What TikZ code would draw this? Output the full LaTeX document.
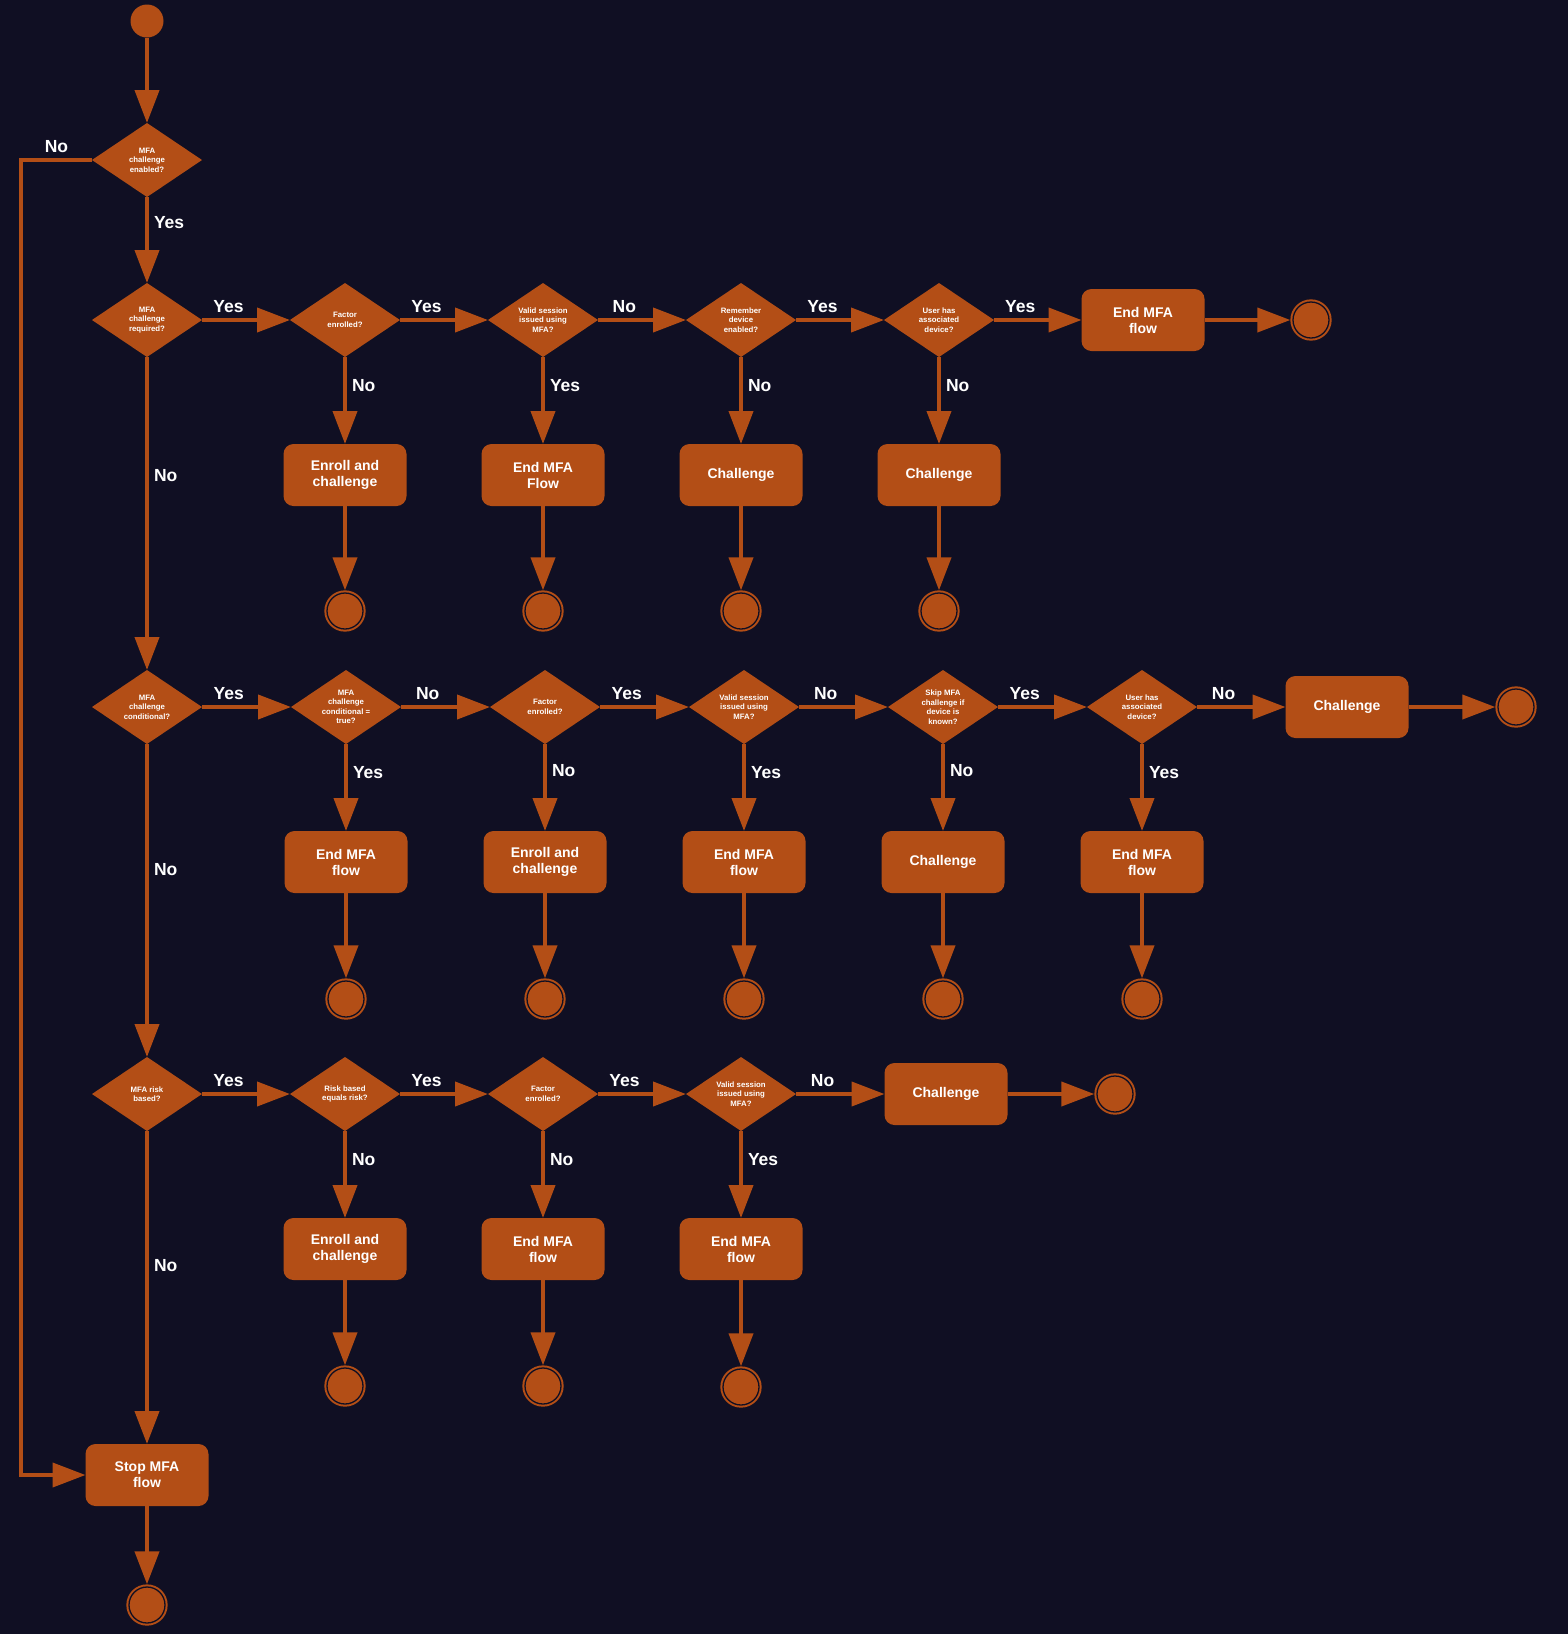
\documentclass[tikz,border=0pt]{standalone}
\usepackage{fontspec}
\setmainfont{Liberation Sans}
\usepackage{xcolor}
\usepackage{tikz}
\usetikzlibrary{shapes,arrows.meta,positioning}

\definecolor{mfa}{HTML}{B34E16}
\definecolor{bg}{HTML}{100F23}

\begin{document}
\begin{tikzpicture}[x=1pt, y=1pt, on grid,
    dec/.style={diamond, aspect=1.5, fill=mfa, text=white, minimum width=110pt, minimum height=74pt, inner sep=0pt, outer sep=0pt, align=center, font=\fontsize{7.8}{9.5}\selectfont\bfseries},
    act/.style={rectangle, rounded corners=10pt, fill=mfa, text=white, minimum width=123pt, minimum height=62pt, outer sep=0pt, align=center, font=\fontsize{14}{16}\selectfont\bfseries},
    init/.style={circle, fill=mfa, minimum size=33pt, inner sep=0pt, outer sep=0pt},
    fin/.style={circle, fill=mfa, draw=mfa, line width=2pt, double=bg, double distance=1.3pt, minimum size=36pt, inner sep=0pt, outer sep=2.7pt},
    lab/.style={text=white, inner sep=5pt, font=\fontsize{17.5}{20}\selectfont\bfseries},
    arrow/.style={-{Triangle[length=33pt, width=24pt]}, line width=4pt, draw=mfa}]

    \fill[bg] (0,0) rectangle (1568,-1634);

    \node[init] (st) at (147,-21) {};
    \node[dec, below=139pt of st] (en) {MFA\\challenge\\enabled?};
    \node[dec, below=160pt of en] (req) {MFA\\challenge\\required?};
    \node[dec, below=387pt of req] (cond) {MFA\\challenge\\conditional?};
    \node[dec, below=387pt of cond] (risk) {MFA risk\\based?};
    \node[act, below=381pt of risk] (stop) {Stop MFA\\flow};
    \node[fin, below=130pt of stop] (stopend) {};
    \coordinate[left=71pt of en.west] (bend);

    \node[dec, right=198pt of req] (fe1) {Factor\\enrolled?};
    \node[dec, right=198pt of fe1] (vs1) {Valid session\\issued using\\MFA?};
    \node[dec, right=198pt of vs1] (rd1) {Remember\\device\\enabled?};
    \node[dec, right=198pt of rd1] (ud1) {User has\\associated\\device?};
    \node[act, right=204pt of ud1] (end1) {End MFA\\flow};
    \node[fin, right=168pt of end1] (end1c) {};
    \node[act, below=155pt of fe1] (enr1) {Enroll and\\challenge};
    \node[fin, below=136pt of enr1] (enr1c) {};
    \node[act, below=155pt of vs1] (vse1) {End MFA\\Flow};
    \node[fin, below=136pt of vse1] (vse1c) {};
    \node[act, below=155pt of rd1] (rdc1) {Challenge};
    \node[fin, below=136pt of rdc1] (rdc1c) {};
    \node[act, below=155pt of ud1] (udc1) {Challenge};
    \node[fin, below=136pt of udc1] (udc1c) {};

    \node[dec, right=199pt of cond] (cc2) {MFA\\challenge\\conditional =\\true?};
    \node[dec, right=199pt of cc2] (fe2) {Factor\\enrolled?};
    \node[dec, right=199pt of fe2] (vs2) {Valid session\\issued using\\MFA?};
    \node[dec, right=199pt of vs2] (sk2) {Skip MFA\\challenge if\\device is\\known?};
    \node[dec, right=199pt of sk2] (ud2) {User has\\associated\\device?};
    \node[act, right=205pt of ud2] (ch2) {Challenge};
    \node[fin, right=169pt of ch2] (ch2c) {};
    \node[act, below=155pt of cc2] (cce2) {End MFA\\flow};
    \node[fin, below=137pt of cce2] (cce2c) {};
    \node[act, below=155pt of fe2] (enr2) {Enroll and\\challenge};
    \node[fin, below=137pt of enr2] (enr2c) {};
    \node[act, below=155pt of vs2] (vse2) {End MFA\\flow};
    \node[fin, below=137pt of vse2] (vse2c) {};
    \node[act, below=155pt of sk2] (skc2) {Challenge};
    \node[fin, below=137pt of skc2] (skc2c) {};
    \node[act, below=155pt of ud2] (ude2) {End MFA\\flow};
    \node[fin, below=137pt of ude2] (ude2c) {};

    \node[dec, right=198pt of risk] (rr3) {Risk based\\equals risk?};
    \node[dec, right=198pt of rr3] (fe3) {Factor\\enrolled?};
    \node[dec, right=198pt of fe3] (vs3) {Valid session\\issued using\\MFA?};
    \node[act, right=205pt of vs3] (ch3) {Challenge};
    \node[fin, right=169pt of ch3] (ch3c) {};
    \node[act, below=155pt of rr3] (enr3) {Enroll and\\challenge};
    \node[fin, below=137pt of enr3] (enr3c) {};
    \node[act, below=155pt of fe3] (fee3) {End MFA\\flow};
    \node[fin, below=137pt of fee3] (fee3c) {};
    \node[act, below=155pt of vs3] (vse3) {End MFA\\flow};
    \node[fin, below=138pt of vse3] (vse3c) {};

    \draw[arrow] (st) -- (en);
    \draw[arrow] (en) -- node[lab, right, pos=0.3] {Yes} (req);
    \draw[arrow] (req) -- node[lab, right, pos=0.38] {No} (cond);
    \draw[arrow] (cond) -- node[lab, right, pos=0.4] {No} (risk);
    \draw[arrow] (risk) -- node[lab, right, pos=0.43] {No} (stop);
    \draw[arrow] (stop) -- (stopend);
    \draw[arrow] (en.west) -- node[lab, above, pos=0.5] {No} (bend) |- (stop.west);

    \draw[arrow] (req) -- node[lab, above, pos=0.3] {Yes} (fe1);
    \draw[arrow] (fe1) -- node[lab, above, pos=0.3] {Yes} (vs1);
    \draw[arrow] (vs1) -- node[lab, above, pos=0.3] {No} (rd1);
    \draw[arrow] (rd1) -- node[lab, above, pos=0.3] {Yes} (ud1);
    \draw[arrow] (ud1) -- node[lab, above, pos=0.3] {Yes} (end1);
    \draw[arrow] (end1) -- (end1c);
    \draw[arrow] (fe1) -- node[lab, right, pos=0.33] {No} (enr1);
    \draw[arrow] (vs1) -- node[lab, right, pos=0.33] {Yes} (vse1);
    \draw[arrow] (rd1) -- node[lab, right, pos=0.33] {No} (rdc1);
    \draw[arrow] (ud1) -- node[lab, right, pos=0.33] {No} (udc1);
    \draw[arrow] (enr1) -- (enr1c);
    \draw[arrow] (vse1) -- (vse1c);
    \draw[arrow] (rdc1) -- (rdc1c);
    \draw[arrow] (udc1) -- (udc1c);

    \draw[arrow] (cond) -- node[lab, above, pos=0.3] {Yes} (cc2);
    \draw[arrow] (cc2) -- node[lab, above, pos=0.3] {No} (fe2);
    \draw[arrow] (fe2) -- node[lab, above, pos=0.3] {Yes} (vs2);
    \draw[arrow] (vs2) -- node[lab, above, pos=0.3] {No} (sk2);
    \draw[arrow] (sk2) -- node[lab, above, pos=0.3] {Yes} (ud2);
    \draw[arrow] (ud2) -- node[lab, above, pos=0.3] {No} (ch2);
    \draw[arrow] (ch2) -- (ch2c);
    \draw[arrow] (cc2) -- node[lab, right, pos=0.33] {Yes} (cce2);
    \draw[arrow] (fe2) -- node[lab, right, pos=0.3] {No} (enr2);
    \draw[arrow] (vs2) -- node[lab, right, pos=0.33] {Yes} (vse2);
    \draw[arrow] (sk2) -- node[lab, right, pos=0.3] {No} (skc2);
    \draw[arrow] (ud2) -- node[lab, right, pos=0.33] {Yes} (ude2);
    \draw[arrow] (cce2) -- (cce2c);
    \draw[arrow] (enr2) -- (enr2c);
    \draw[arrow] (vse2) -- (vse2c);
    \draw[arrow] (skc2) -- (skc2c);
    \draw[arrow] (ude2) -- (ude2c);

    \draw[arrow] (risk) -- node[lab, above, pos=0.3] {Yes} (rr3);
    \draw[arrow] (rr3) -- node[lab, above, pos=0.3] {Yes} (fe3);
    \draw[arrow] (fe3) -- node[lab, above, pos=0.3] {Yes} (vs3);
    \draw[arrow] (vs3) -- node[lab, above, pos=0.3] {No} (ch3);
    \draw[arrow] (ch3) -- (ch3c);
    \draw[arrow] (rr3) -- node[lab, right, pos=0.33] {No} (enr3);
    \draw[arrow] (fe3) -- node[lab, right, pos=0.33] {No} (fee3);
    \draw[arrow] (vs3) -- node[lab, right, pos=0.33] {Yes} (vse3);
    \draw[arrow] (enr3) -- (enr3c);
    \draw[arrow] (fee3) -- (fee3c);
    \draw[arrow] (vse3) -- (vse3c);
\end{tikzpicture}
\end{document}
